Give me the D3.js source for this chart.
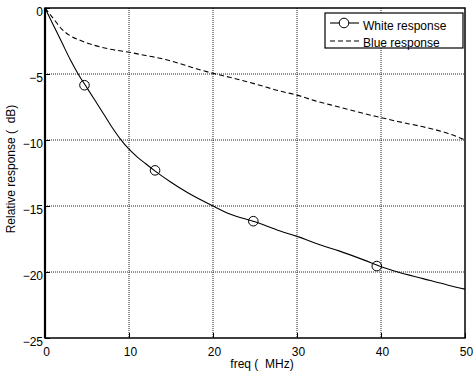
<!DOCTYPE html>
<html>
<head>
<meta charset="utf-8">
<script src="https://cdn.jsdelivr.net/npm/d3@7"></script>
<style>
  body { margin: 0; background: #fff; }
  svg { display: block; font-family: "Liberation Sans", Arial, sans-serif; }
</style>
</head>
<body>
<div id="chart"></div>
<script>
const width = 474;
const height = 373;
const margin = { top: 8, right: 9, bottom: 35, left: 45 };
const innerWidth = width - margin.left - margin.right;
const innerHeight = height - margin.top - margin.bottom;

// frequency (MHz) and relative response (dB)
const whiteFreq = [0, 1, 2, 3, 4, 5, 6, 7, 8, 9, 10, 11, 12, 13, 15, 17, 20, 22, 25, 28, 30, 33, 35, 38, 40, 42, 45, 48, 50];
const whiteResp = [0, -1.3, -2.6, -3.9, -5.05, -6.05, -7.05, -8.05, -9.05, -9.95, -10.7, -11.3, -11.8, -12.3, -13.2, -14.0, -15.0, -15.6, -16.2, -16.9, -17.3, -18.0, -18.4, -19.1, -19.6, -20.0, -20.5, -21.0, -21.3];
const blueFreq = [0, 1, 2, 3, 4, 5, 6, 8, 10, 12, 14, 16, 18, 20, 22, 25, 28, 30, 32, 35, 38, 40, 42, 45, 48, 50];
const blueResp = [0, -0.8, -1.6, -2.1, -2.4, -2.65, -2.85, -3.15, -3.35, -3.6, -3.85, -4.2, -4.6, -4.95, -5.25, -5.75, -6.3, -6.6, -7.0, -7.5, -8.0, -8.3, -8.6, -9.0, -9.5, -10.0];
const markerFreq = [4.7, 13.1, 24.8, 39.5];
const markerResp = [-5.85, -12.3, -16.15, -19.55];
const xTicks = [0, 10, 20, 30, 40, 50];
const yTicks = [0, -5, -10, -15, -20, -25];

const xScale = d3.scaleLinear().domain([0, 50]).range([0, innerWidth]);
const yScale = d3.scaleLinear().domain([-25, 0]).range([innerHeight, 0]);

const svg = d3.select("#chart")
  .append("svg")
  .attr("width", width)
  .attr("height", height);

const innerChart = svg.append("g")
  .attr("transform", `translate(${margin.left}, ${margin.top})`);

// dotted grid
innerChart.append("g")
  .selectAll("line")
  .data(xTicks.slice(1, -1))
  .join("line")
  .attr("x1", d => xScale(d)).attr("x2", d => xScale(d))
  .attr("y1", 0).attr("y2", innerHeight)
  .attr("stroke", "#222").attr("stroke-width", 1)
  .attr("stroke-dasharray", "1,1");

innerChart.append("g")
  .selectAll("line")
  .data(yTicks.slice(1, -1))
  .join("line")
  .attr("y1", d => yScale(d)).attr("y2", d => yScale(d))
  .attr("x1", 0).attr("x2", innerWidth)
  .attr("stroke", "#222").attr("stroke-width", 1)
  .attr("stroke-dasharray", "1,1");

// axes (inward ticks)
const xAxisGroup = innerChart.append("g")
  .attr("transform", `translate(0, ${innerHeight})`)
  .call(d3.axisBottom(xScale).tickValues(xTicks).tickSize(-5));
const yAxisGroup = innerChart.append("g")
  .call(d3.axisLeft(yScale).tickValues(yTicks).tickSize(-5));

[xAxisGroup, yAxisGroup].forEach(g => {
  g.select(".domain").remove();
  g.selectAll("line").attr("stroke", "#000");
  g.selectAll("text").attr("fill", "#000").attr("font-size", 12)
    .attr("font-family", "Liberation Sans, Arial, sans-serif")
    .attr("dy", null);
});
xAxisGroup.selectAll("text").attr("x", 1).attr("y", 18);
yAxisGroup.selectAll("text").attr("x", -2).attr("y", 7.5);

// box
innerChart.append("rect")
  .attr("x", 0).attr("y", 0)
  .attr("width", innerWidth).attr("height", innerHeight)
  .attr("fill", "none").attr("stroke", "#000").attr("stroke-width", 1.5);
innerChart.append("line")
  .attr("x1", 0).attr("x2", 0).attr("y1", 0).attr("y2", innerHeight)
  .attr("stroke", "#000").attr("stroke-width", 2.2);

// curves
const line = d3.line()
  .x(d => xScale(d[0]))
  .y(d => yScale(d[1]))
  .curve(d3.curveMonotoneX);

innerChart.append("path")
  .datum(blueFreq.map((f, i) => [f, blueResp[i]]))
  .attr("d", line)
  .attr("fill", "none").attr("stroke", "#000").attr("stroke-width", 1.1)
  .attr("stroke-dasharray", "5,3");

innerChart.append("path")
  .datum(whiteFreq.map((f, i) => [f, whiteResp[i]]))
  .attr("d", line)
  .attr("fill", "none").attr("stroke", "#000").attr("stroke-width", 1.1);

innerChart.append("g")
  .selectAll("circle")
  .data(markerFreq.map((f, i) => [f, markerResp[i]]))
  .join("circle")
  .attr("cx", d => xScale(d[0]))
  .attr("cy", d => yScale(d[1]))
  .attr("r", 4.8)
  .attr("fill", "none").attr("stroke", "#000").attr("stroke-width", 1);

// legend
const legend = svg.append("g");
legend.append("rect")
  .attr("x", 325).attr("y", 13).attr("width", 138).attr("height", 35)
  .attr("fill", "#fff").attr("stroke", "#000").attr("stroke-width", 1.2);
legend.append("line")
  .attr("x1", 330).attr("x2", 359).attr("y1", 23).attr("y2", 23)
  .attr("stroke", "#000").attr("stroke-width", 1.1);
legend.append("circle")
  .attr("cx", 344).attr("cy", 23).attr("r", 4.8)
  .attr("fill", "#fff").attr("stroke", "#000");
legend.append("line")
  .attr("x1", 330).attr("x2", 359).attr("y1", 41).attr("y2", 41)
  .attr("stroke", "#000").attr("stroke-width", 1.1)
  .attr("stroke-dasharray", "5,3");
legend.append("text")
  .attr("x", 363).attr("y", 30).attr("font-size", 12)
  .text("White response");
legend.append("text")
  .attr("x", 363).attr("y", 47).attr("font-size", 12)
  .text("Blue response");

// axis labels
svg.append("text")
  .attr("x", 262)
  .attr("y", 368)
  .attr("text-anchor", "middle")
  .attr("font-size", 12)
  .style("white-space", "pre")
  .text("freq (  MHz)");

svg.append("text")
  .attr("transform", "rotate(-90)")
  .attr("x", -169)
  .attr("y", 15)
  .attr("text-anchor", "middle")
  .attr("font-size", 12)
  .style("white-space", "pre")
  .text("Relative response (  dB)");
</script>
</body>
</html>
